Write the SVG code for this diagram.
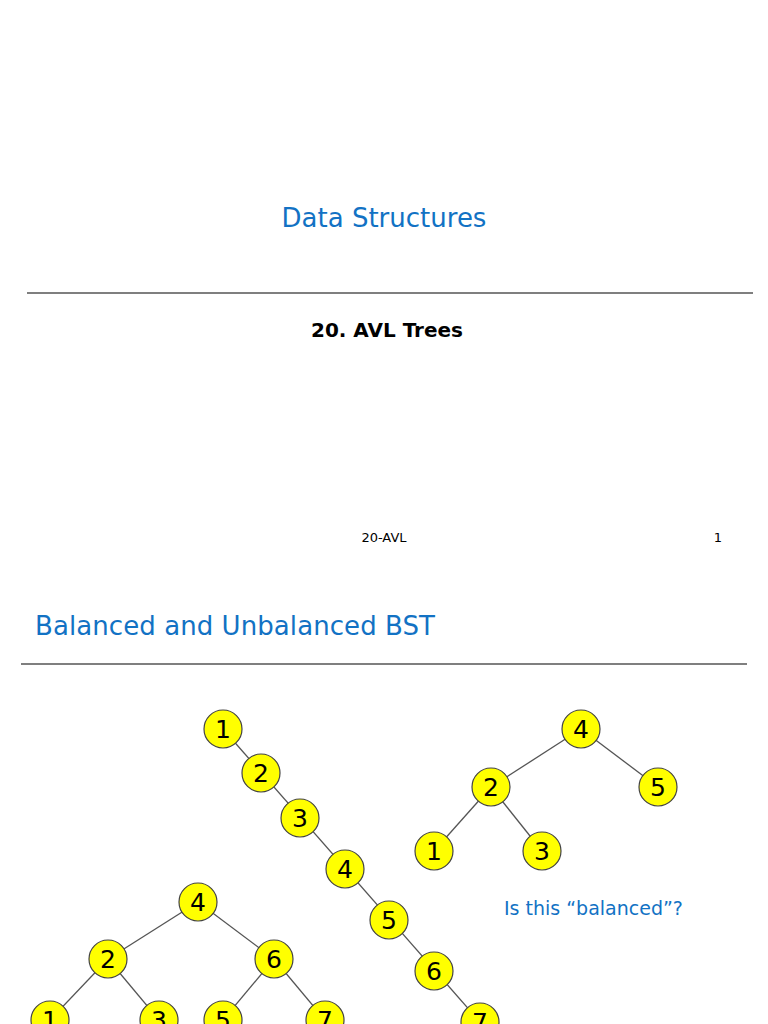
<svg xmlns="http://www.w3.org/2000/svg" width="768" height="1024" viewBox="0 0 768 1024">
<style>
.n circle{fill:#ffff00;stroke:#444;stroke-width:1.2}
.n text{font-family:"DejaVu Sans",Verdana,sans-serif;font-size:25px;text-anchor:middle;dominant-baseline:central;fill:#000}
.e line{stroke:#555;stroke-width:1.3}
.t{font-family:"DejaVu Sans",Verdana,sans-serif}
</style>
<rect width="768" height="1024" fill="#fff"/>
<text class="t" x="384" y="227" font-size="26" fill="#1272c4" text-anchor="middle">Data Structures</text>
<line x1="27" y1="293" x2="753" y2="293" stroke="#000" stroke-width="1.2"/>
<text class="t" x="387" y="337" font-size="20" font-weight="bold" text-anchor="middle">20. AVL Trees</text>
<text class="t" x="384" y="542" font-size="13" text-anchor="middle">20-AVL</text>
<text class="t" x="718" y="542" font-size="13" text-anchor="middle">1</text>
<text class="t" x="35" y="635" font-size="26" fill="#1272c4" textLength="400">Balanced and Unbalanced BST</text>
<line x1="21" y1="664" x2="747" y2="664" stroke="#000" stroke-width="1.2"/>
<text class="t" x="504" y="915" font-size="19" fill="#1272c4">Is this “balanced”?</text>
<g class="e">
<line x1="223" y1="729" x2="480" y2="1022"/>
<line x1="198" y1="902" x2="108" y2="959"/><line x1="198" y1="902" x2="274" y2="959"/>
<line x1="108" y1="959" x2="50" y2="1020"/><line x1="108" y1="959" x2="159" y2="1020"/>
<line x1="274" y1="959" x2="223" y2="1020"/><line x1="274" y1="959" x2="325" y2="1020"/>
<line x1="581" y1="729" x2="491" y2="787"/><line x1="581" y1="729" x2="658" y2="787"/>
<line x1="491" y1="787" x2="434" y2="851"/><line x1="491" y1="787" x2="542" y2="851"/>
</g>
<g id="u1" class="n"><circle cx="223" cy="729" r="19"/><text x="223" y="729">1</text></g>
<g id="u2" class="n"><circle cx="261" cy="773" r="19"/><text x="261" y="773">2</text></g>
<g id="u3" class="n"><circle cx="300" cy="818" r="19"/><text x="300" y="818">3</text></g>
<g id="u4" class="n"><circle cx="345" cy="869" r="19"/><text x="345" y="869">4</text></g>
<g id="u5" class="n"><circle cx="389" cy="920" r="19"/><text x="389" y="920">5</text></g>
<g id="u6" class="n"><circle cx="434" cy="971" r="19"/><text x="434" y="971">6</text></g>
<g id="u7" class="n"><circle cx="480" cy="1022" r="19"/><text x="480" y="1022">7</text></g>
<g id="b4" class="n"><circle cx="198" cy="902" r="19"/><text x="198" y="902">4</text></g>
<g id="b2" class="n"><circle cx="108" cy="959" r="19"/><text x="108" y="959">2</text></g>
<g id="b6" class="n"><circle cx="274" cy="959" r="19"/><text x="274" y="959">6</text></g>
<g id="b1" class="n"><circle cx="50" cy="1020" r="19"/><text x="50" y="1020">1</text></g>
<g id="b3" class="n"><circle cx="159" cy="1020" r="19"/><text x="159" y="1020">3</text></g>
<g id="b5" class="n"><circle cx="223" cy="1020" r="19"/><text x="223" y="1020">5</text></g>
<g id="b7" class="n"><circle cx="325" cy="1020" r="19"/><text x="325" y="1020">7</text></g>
<g id="r4" class="n"><circle cx="581" cy="729" r="19"/><text x="581" y="729">4</text></g>
<g id="r2" class="n"><circle cx="491" cy="787" r="19"/><text x="491" y="787">2</text></g>
<g id="r5" class="n"><circle cx="658" cy="787" r="19"/><text x="658" y="787">5</text></g>
<g id="r1" class="n"><circle cx="434" cy="851" r="19"/><text x="434" y="851">1</text></g>
<g id="r3" class="n"><circle cx="542" cy="851" r="19"/><text x="542" y="851">3</text></g>
</svg>
